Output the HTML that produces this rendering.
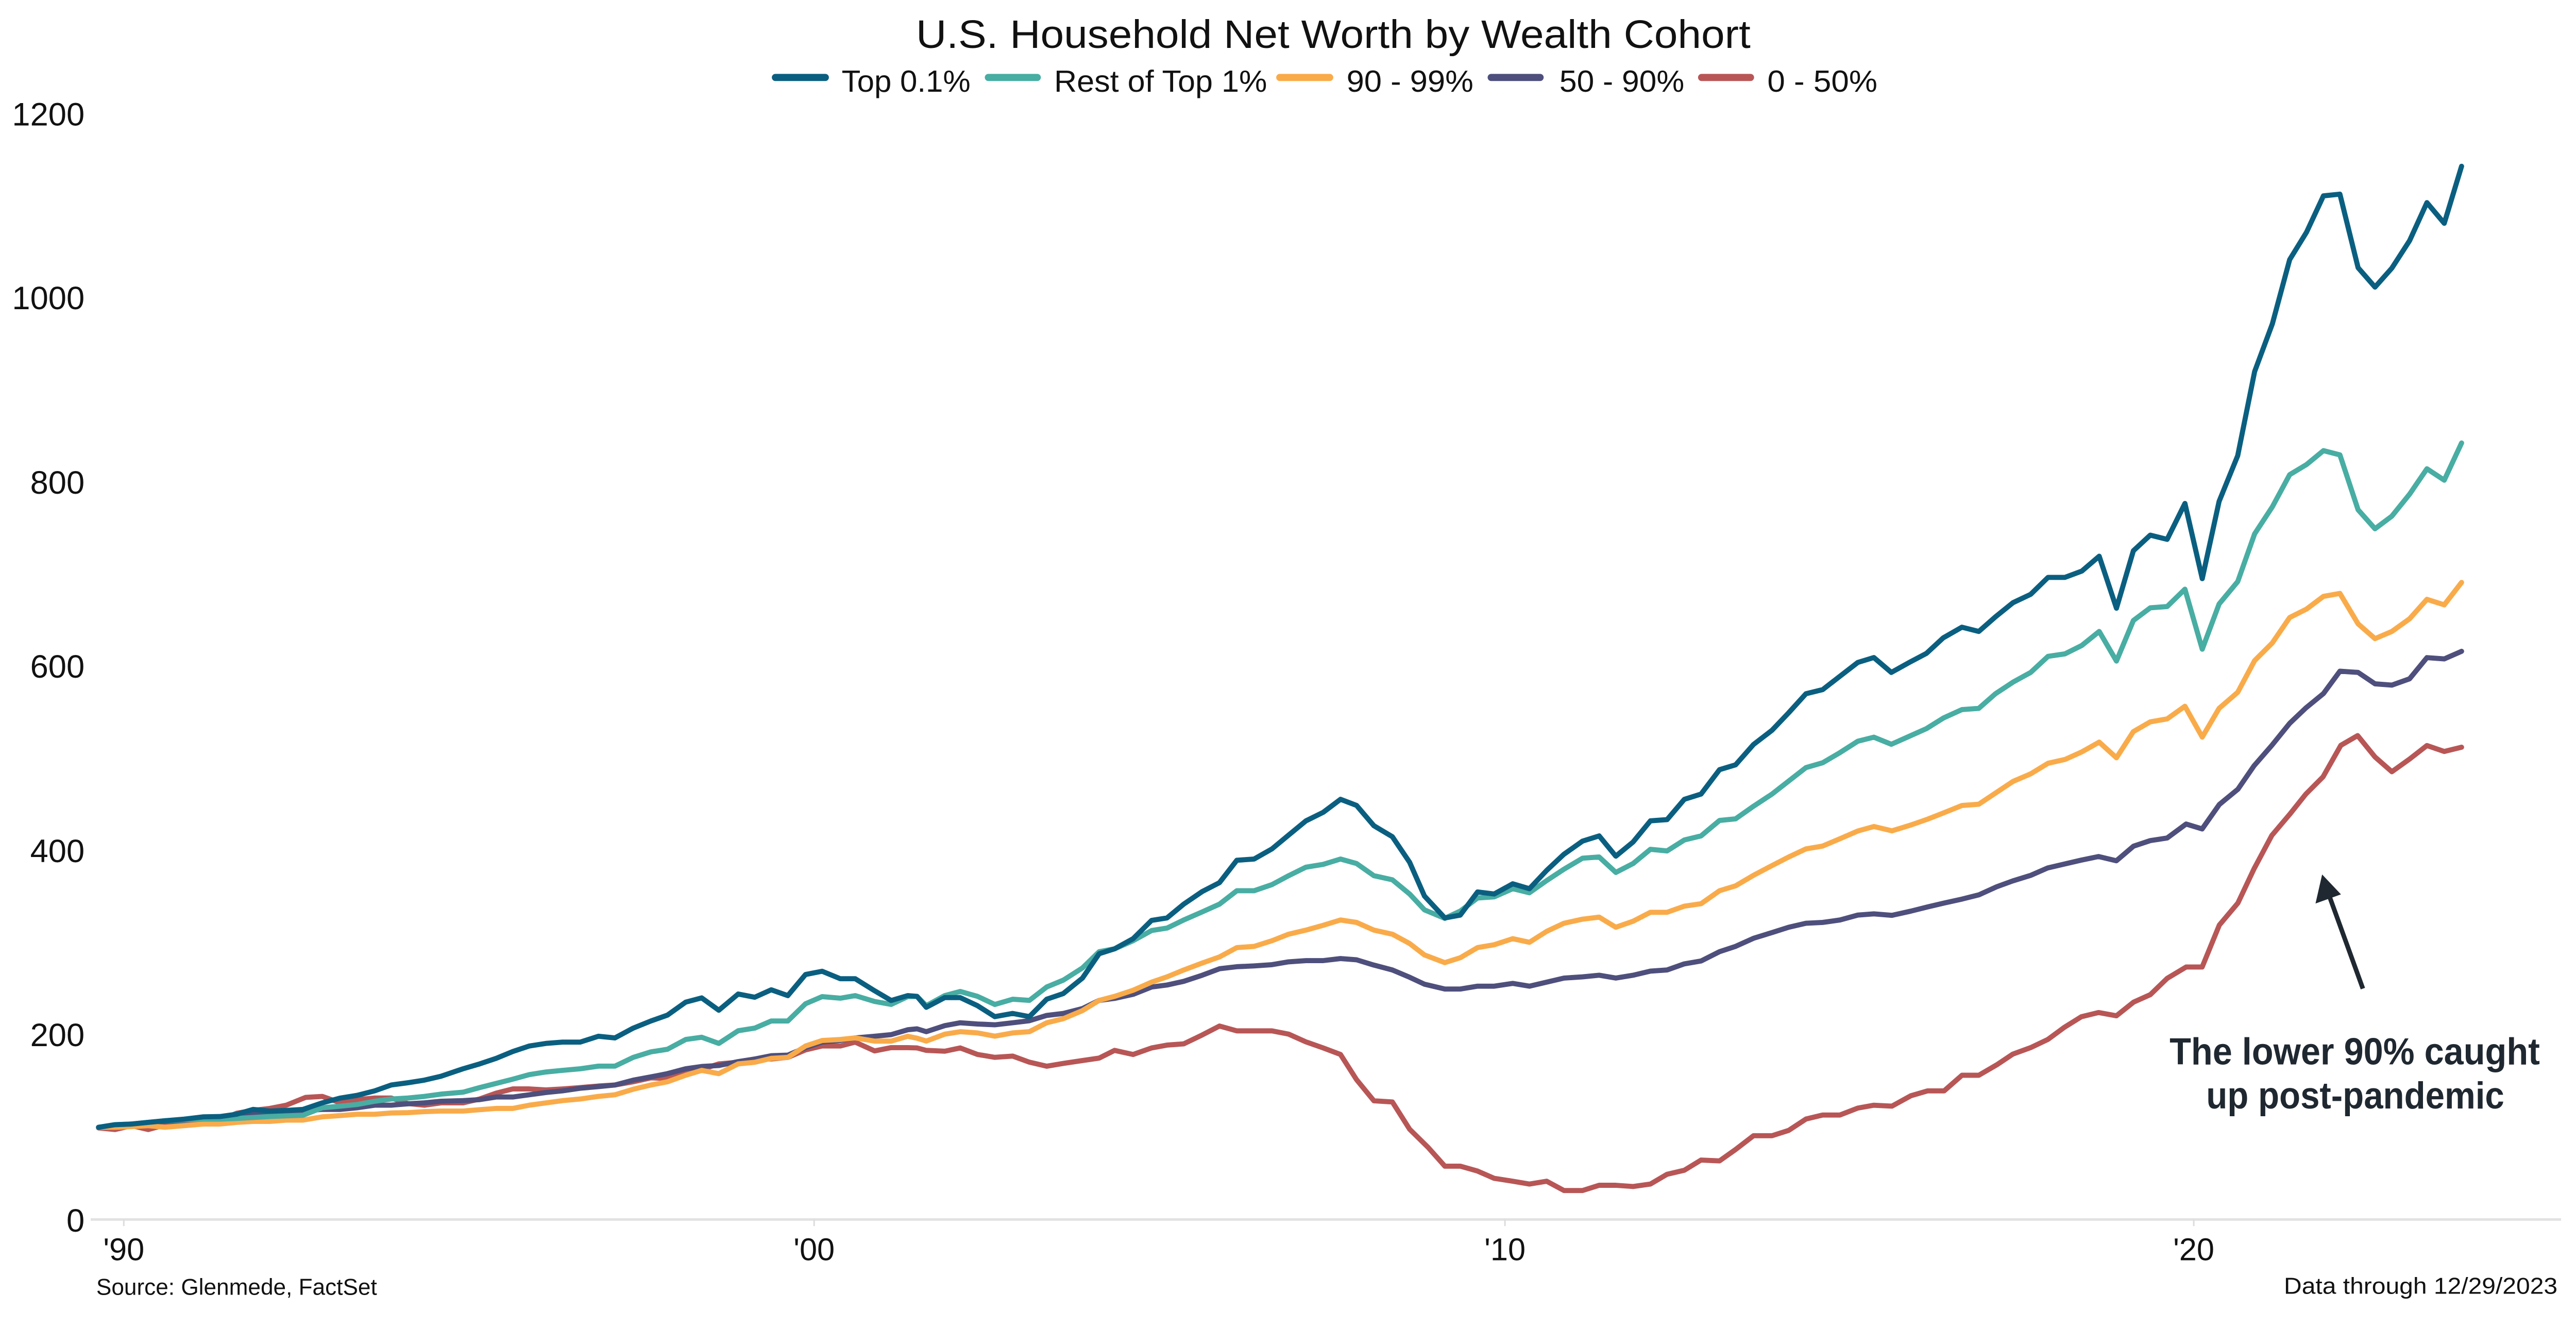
<!DOCTYPE html>
<html><head><meta charset="utf-8"><style>
html,body{margin:0;padding:0;background:#fff;width:5050px;height:2575px;overflow:hidden;}
svg{display:block;position:absolute;left:0;top:0;}
text{font-family:"Liberation Sans",sans-serif;}
</style></head><body>
<svg id="c" width="5050" height="2575" viewBox="0 0 5106 2604" preserveAspectRatio="xMinYMin meet" xmlns="http://www.w3.org/2000/svg">
<rect width="5106" height="2604" fill="#fff"/>
<text x="2617" y="94" font-size="78" text-anchor="middle" textLength="1638" lengthAdjust="spacingAndGlyphs" fill="#111">U.S. Household Net Worth by Wealth Cohort</text>
<g stroke-width="14" stroke-linecap="round">
<line x1="1522" y1="152" x2="1620" y2="152" stroke="#0a5f80"/>
<line x1="1940" y1="152" x2="2036" y2="152" stroke="#48ada3"/>
<line x1="2512" y1="152" x2="2610" y2="152" stroke="#f9ab4a"/>
<line x1="2927" y1="152" x2="3023" y2="152" stroke="#4e4f7c"/>
<line x1="3340" y1="152" x2="3436" y2="152" stroke="#b85656"/>
</g>
<g font-size="60" fill="#111">
<text x="1652" y="180" textLength="253" lengthAdjust="spacingAndGlyphs">Top 0.1%</text>
<text x="2069" y="180" textLength="418" lengthAdjust="spacingAndGlyphs">Rest of Top 1%</text>
<text x="2643" y="180" textLength="249" lengthAdjust="spacingAndGlyphs">90 - 99%</text>
<text x="3061" y="180" textLength="245" lengthAdjust="spacingAndGlyphs">50 - 90%</text>
<text x="3469" y="180" textLength="216" lengthAdjust="spacingAndGlyphs">0 - 50%</text>
</g>
<g font-size="64" fill="#111" text-anchor="end">
<text x="166" y="246">1200</text>
<text x="166" y="607">1000</text>
<text x="166" y="969">800</text>
<text x="166" y="1330">600</text>
<text x="166" y="1692">400</text>
<text x="166" y="2053">200</text>
<text x="166" y="2417">0</text>
</g>
<line x1="178" y1="2393" x2="5027" y2="2393" stroke="#e2e2e2" stroke-width="5"/>
<g stroke="#dcdcdc" stroke-width="3">
<line x1="243" y1="2393" x2="243" y2="2406"/>
<line x1="1598" y1="2393" x2="1598" y2="2406"/>
<line x1="2954" y1="2393" x2="2954" y2="2406"/>
<line x1="4306" y1="2393" x2="4306" y2="2406"/>
</g>
<g font-size="62" fill="#111" text-anchor="middle">
<text x="243" y="2473">'90</text>
<text x="1598" y="2473">'00</text>
<text x="2954" y="2473">'10</text>
<text x="4306" y="2473">'20</text>
</g>
<text x="189" y="2541" font-size="45" fill="#111" textLength="551" lengthAdjust="spacingAndGlyphs">Source: Glenmede, FactSet</text>
<text x="4483" y="2539" font-size="45" fill="#111" textLength="537" lengthAdjust="spacingAndGlyphs">Data through 12/29/2023</text>
<g id="series" fill="none" stroke-width="10" stroke-linejoin="round" stroke-linecap="round"></g>
<line x1="4638" y1="1940" x2="4572" y2="1758" stroke="#1f2830" stroke-width="9"/>
<polygon points="4558,1716 4545,1773 4595,1755" fill="#1f2830"/>
<g font-size="74" font-weight="bold" fill="#1f2830" text-anchor="middle">
<text x="4622" y="2089" textLength="727" lengthAdjust="spacingAndGlyphs">The lower 90% caught</text>
<text x="4623" y="2175" textLength="585" lengthAdjust="spacingAndGlyphs">up post-pandemic</text>
</g>
</svg>
<script>
var T={
z5:function(p){return [150+p[0]*1.0842,1300+p[1]*0.6378];},
z4:function(p){return [1800+p[0]*1.2117,1150+p[1]*0.7972];},
z3:function(p){return [3700+p[0]*0.8291,250+p[1]*0.8291];},
z6:function(p){return [3600+p[0]*0.7015,1300+p[1]*0.6378];}
};
function P(s){var a=s.trim().split(/\s+/);return a.map(function(t){var q=t.split(',');return [+q[0],+q[1]];});}
var top5="40,1430 70,1422 100,1420 130,1415 160,1410 195,1405 230,1398 260,1397 290,1390 320,1375 350,1380 380,1378 410,1375 445,1355 478,1340 508,1332 540,1318 570,1300 600,1293 630,1285 660,1273 700,1250 730,1235 760,1218 790,1197 820,1180 850,1172 880,1168 912,1168 945,1150 975,1155 1008,1125 1040,1103 1070,1085 1103,1045 1132,1032 1163,1070 1198,1020 1228,1030 1258,1007 1288,1025 1320,960 1350,950 1383,973 1410,973 1445,1010 1475,1040 1505,1025";
var top4="0,1010 15,1037 45,1013 70,1013 98,1033 126,1060 155,1052 182,1060 210,1017 237,1003 268,965 295,905 320,893 350,868 380,823 405,817 432,783 462,752 490,730 518,675 546,672 575,647 602,613 630,578 658,557 686,525 712,540 740,590 770,617 798,680 822,763 855,817 880,810 908,753 935,758 965,733 992,745 1020,700 1048,660 1078,628 1105,615 1132,665 1160,630 1188,578 1215,575 1243,525 1270,512 1300,452 1326,440 1355,390 1385,355 1412,312 1440,265 1467,255 1495,222 1524,188 1550,176";
var top3="15,1290 60,1265 98,1245 138,1208 182,1183 222,1193 262,1158 303,1125 345,1105 386,1065 426,1065 466,1050 507,1015 548,1138 588,1002 628,965 668,975 710,890 751,1068 791,885 835,777 875,578 917,465 958,313 998,248 1038,162 1077,158 1120,332 1160,378 1200,333 1242,268 1283,178 1324,227 1365,92";
var tl5="40,1430 70,1422 100,1420 130,1415 160,1410 195,1407 230,1405 260,1405 290,1403 320,1400 350,1397 380,1395 410,1393 445,1370 478,1365 508,1360 540,1350 570,1343 600,1340 630,1335 660,1328 700,1322 730,1308 760,1295 790,1282 820,1268 850,1260 880,1255 912,1250 945,1242 975,1242 1008,1215 1040,1198 1070,1190 1103,1160 1132,1153 1163,1172 1198,1133 1228,1125 1258,1103 1288,1103 1320,1050 1350,1028 1383,1033 1410,1025 1445,1043 1475,1052 1505,1028";
var tl4="0,1010 15,1033 45,1008 70,998 98,1010 126,1030 155,1017 182,1020 210,987 237,970 268,940 295,900 320,893 350,873 380,848 405,842 432,822 462,802 490,783 518,750 546,750 575,735 602,713 630,692 658,685 686,672 712,683 740,713 770,723 798,758 822,797 855,818 880,800 908,768 935,765 965,745 992,755 1020,725 1048,697 1078,670 1105,667 1132,705 1160,683 1188,648 1215,652 1243,625 1270,615 1300,577 1326,573 1355,542 1385,512 1412,480 1440,447 1467,435 1495,410 1524,382 1550,372";
var tl3="15,1460 60,1440 98,1423 138,1398 182,1378 222,1375 262,1340 303,1313 345,1290 386,1252 426,1246 466,1226 507,1193 548,1263 588,1167 628,1137 668,1134 710,1093 751,1235 791,1128 835,1075 875,962 917,898 958,822 998,798 1038,765 1077,775 1120,905 1160,950 1200,920 1242,868 1283,808 1324,835 1365,747";
var or5="40,1430 70,1430 100,1428 130,1425 160,1430 195,1425 230,1420 260,1420 290,1415 320,1412 350,1412 380,1408 410,1408 445,1398 478,1394 508,1390 540,1390 570,1386 600,1385 630,1382 660,1380 700,1380 730,1376 760,1372 790,1372 820,1362 850,1355 880,1348 912,1343 945,1335 975,1330 1008,1313 1040,1300 1070,1290 1103,1270 1132,1255 1163,1265 1198,1235 1228,1230 1258,1218 1288,1215 1320,1180 1350,1163 1383,1160 1410,1155 1445,1165 1475,1165 1505,1150";
var or4="0,1113 15,1120 45,1103 70,1097 98,1100 126,1108 155,1100 182,1097 210,1075 237,1065 268,1045 295,1020 320,1010 350,995 380,975 405,962 432,945 462,928 490,913 518,890 546,887 575,873 602,857 630,847 658,835 686,822 712,828 740,847 770,857 798,880 822,908 855,927 880,915 908,890 935,883 965,868 992,877 1020,850 1048,830 1078,820 1105,815 1132,840 1160,825 1188,803 1215,803 1243,788 1270,782 1300,750 1326,738 1355,712 1385,688 1412,667 1440,647 1467,640 1495,622 1524,603 1550,592";
var or6="162,518 215,500 262,482 308,462 358,440 405,436";
var or3="303,1548 345,1530 386,1505 426,1496 466,1478 507,1455 548,1492 588,1430 628,1407 668,1400 710,1370 751,1443 791,1375 835,1337 875,1262 917,1220 958,1160 998,1140 1038,1110 1077,1103 1120,1175 1160,1210 1200,1193 1242,1163 1283,1117 1324,1130 1365,1077";
var pu5="40,1430 70,1425 100,1420 130,1415 160,1412 195,1408 230,1403 260,1400 290,1395 320,1390 350,1387 380,1385 410,1380 445,1375 478,1375 508,1370 540,1362 570,1362 600,1358 630,1355 660,1350 700,1348 730,1345 760,1337 790,1337 820,1330 850,1323 880,1318 912,1310 945,1305 975,1300 1008,1285 1040,1275 1070,1265 1103,1250 1132,1243 1163,1240 1198,1228 1228,1220 1258,1210 1288,1208 1320,1185 1350,1168 1383,1163 1410,1155 1445,1150 1475,1145 1505,1130";
var pu4="0,1090 15,1097 45,1082 70,1075 98,1078 126,1080 155,1075 182,1070 210,1057 237,1052 268,1040 295,1020 320,1015 350,1005 380,987 405,982 432,973 462,958 490,942 518,937 546,935 575,932 602,925 630,922 658,922 686,917 712,920 740,933 770,945 798,963 822,980 855,992 880,992 908,985 935,985 965,978 992,985 1020,975 1048,965 1078,962 1105,958 1132,965 1160,958 1188,948 1215,945 1243,930 1270,923 1300,900 1326,887 1355,867 1385,853 1412,840 1440,830 1467,828 1495,822 1524,810 1550,807";
var pu6="162,778 215,765 262,752 308,740 358,728 405,715 455,690 500,672 550,655 598,632 645,620 692,608 740,597 790,610 838,565 885,548 932,540 985,497 1030,512 1078,437 1130,390 1175,318 1225,255 1275,187 1320,140";
var pu3="1038,1340 1077,1287 1120,1290 1160,1317 1200,1320 1242,1305 1283,1255 1324,1258 1365,1240";
var re5="40,1432 70,1437 100,1425 130,1437 160,1423 195,1413 230,1408 260,1408 290,1387 320,1378 350,1372 380,1362 415,1338 445,1335 478,1355 508,1345 540,1340 570,1340 600,1357 630,1362 660,1355 700,1355 730,1343 760,1325 790,1312 820,1312 850,1315 880,1312 912,1308 945,1303 975,1300 1008,1290 1040,1278 1070,1280 1103,1255 1132,1252 1163,1235 1198,1230 1228,1220 1258,1220 1288,1215 1320,1192 1350,1180 1383,1180 1410,1168 1445,1195 1475,1185 1505,1185";
var re4="0,1137 15,1143 45,1145 70,1137 98,1153 126,1160 155,1157 182,1172 210,1182 237,1175 268,1168 295,1162 320,1143 350,1153 380,1137 405,1130 432,1127 462,1105 490,1083 518,1095 546,1095 575,1095 602,1103 630,1122 658,1137 686,1153 712,1215 740,1267 770,1270 798,1337 828,1382 855,1428 880,1428 908,1440 935,1458 965,1465 992,1472 1020,1465 1048,1488 1078,1488 1105,1475 1132,1475 1160,1478 1188,1472 1215,1448 1243,1438 1270,1413 1300,1415 1326,1387 1355,1353 1385,1353 1412,1340 1440,1312 1467,1302 1495,1302 1524,1285 1550,1278";
var re6="162,1365 215,1333 262,1318 308,1318 358,1270 405,1270 455,1238 500,1205 550,1185 598,1160 645,1122 692,1090 740,1077 790,1087 838,1045 885,1022 932,972 985,937 1030,937 1078,808 1130,740 1175,635 1225,532 1275,467 1320,405 1368,352 1418,255 1465,225";
var re3="1160,1490 1200,1525 1242,1495 1283,1463 1324,1477 1365,1467";
var S=[
["#b85656",[["z5",re5],["z4",re4],["z6",re6],["z3",re3]]],
["#4e4f7c",[["z5",pu5],["z4",pu4],["z6",pu6],["z3",pu3]]],
["#f9ab4a",[["z5",or5],["z4",or4],["z6",or6],["z3",or3]]],
["#48ada3",[["z5",tl5],["z4",tl4],["z3",tl3]]],
["#0a5f80",[["z5",top5],["z4",top4],["z3",top3]]]
];
var g=document.getElementById("series"),ns="http://www.w3.org/2000/svg";
S.forEach(function(s){var pts=[];s[1].forEach(function(q){pts=pts.concat(P(q[1]).map(T[q[0]]));});
pts.sort(function(a,b){return a[0]-b[0];});
var d=pts.map(function(p,i){return (i?"L":"M")+p[0].toFixed(1)+","+p[1].toFixed(1);}).join("");
var e=document.createElementNS(ns,"path");e.setAttribute("d",d);e.setAttribute("stroke",s[0]);g.appendChild(e);});
</script>
</body></html>
